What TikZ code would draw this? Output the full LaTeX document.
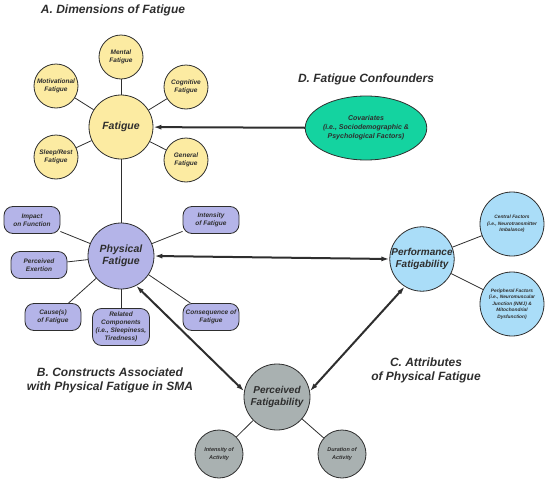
\documentclass[tikz,border=0pt]{standalone}
\usepackage{fontspec}
\setmainfont{Liberation Sans}
\usetikzlibrary{arrows.meta,shapes.geometric}

\definecolor{fatyellow}{HTML}{FCEBA2}
\definecolor{physpurple}{HTML}{B4B4E8}
\definecolor{perfblue}{HTML}{AADDF8}
\definecolor{covgreen}{HTML}{14D3A0}
\definecolor{percgray}{HTML}{A9B1B1}
\definecolor{inkgray}{HTML}{2E2E2E}

\begin{document}
\begin{tikzpicture}[x=1pt,y=-1pt,
  every node/.style={text=inkgray, align=center},
  bubble/.style={circle, draw=inkgray, line width=0.8pt, inner sep=0pt},
  pill/.style={rectangle, rounded corners=9pt, draw=inkgray, line width=0.8pt,
    fill=physpurple, minimum width=56pt, minimum height=27pt, inner sep=1pt,
    font=\fontsize{6.5}{8}\selectfont\bfseries\itshape},
  spoke/.style={draw=inkgray, line width=0.8pt},
  link/.style={draw=inkgray, line width=2pt},
  >={Latex[length=8pt,width=5pt]},
  heading/.style={font=\fontsize{12}{14}\selectfont\bfseries\itshape}]

\useasboundingbox (0,0) rectangle (550,482);

% section titles
\node[heading] (titleA) at (113,10) {A. Dimensions of Fatigue};
\node[heading] (titleD) at (366,79) {D. Fatigue Confounders};
\node[heading] (titleB) at (110,380) {B. Constructs Associated\\with Physical Fatigue in SMA};
\node[heading] (titleC) at (426,370) {C. Attributes\\of Physical Fatigue};

% A: dimensions of fatigue
\node[bubble, fill=fatyellow, minimum size=64pt,
  font=\fontsize{10.5}{11.5}\selectfont\bfseries\itshape] (fatigue) at (121,127) {Fatigue};
\tikzset{small/.style={bubble, fill=fatyellow, minimum size=44pt,
  font=\fontsize{6.5}{8}\selectfont\bfseries\itshape}}
\node[small] (mental) at (121,57) {Mental\\Fatigue};
\node[small] (motiv) at (56,86) {Motivational\\Fatigue};
\node[small] (cogn) at (186,87) {Cognitive\\Fatigue};
\node[small] (sleep) at (56,157) {Sleep/Rest\\Fatigue};
\node[small] (general) at (186,160) {General\\Fatigue};
\draw[spoke] (fatigue) -- (mental);
\draw[spoke] (fatigue) -- (motiv);
\draw[spoke] (fatigue) -- (cogn);
\draw[spoke] (fatigue) -- (sleep);
\draw[spoke] (fatigue) -- (general);

% D: confounders
\node[ellipse, draw=inkgray, line width=0.8pt, fill=covgreen, minimum width=102pt,
  minimum height=64pt, inner sep=0pt,
  font=\fontsize{7}{9}\selectfont\bfseries\itshape] (covar) at (366,128)
  {Covariates\\(i.e., Sociodemographic \&\\Psychological Factors)};
\draw[link,->] (covar) -- (fatigue);

% B: physical fatigue constructs
\node[bubble, fill=physpurple, minimum size=66pt,
  font=\fontsize{10.5}{11.5}\selectfont\bfseries\itshape] (physical) at (121,256) {Physical\\Fatigue};
\draw[spoke] (fatigue) -- (physical);
\node[pill] (impact) at (32,220) {Impact\\on Function};
\node[pill] (intens) at (211,220) {Intensity\\of Fatigue};
\node[pill] (exert) at (39,265) {Perceived\\Exertion};
\node[pill] (cause) at (53,317) {Cause(s)\\of Fatigue};
\node[pill, minimum width=57pt, minimum height=37pt] (related) at (121,327)
  {Related\\Components\\(i.e., Sleepiness,\\Tiredness)};
\node[pill] (conseq) at (211,317) {Consequence of\\Fatigue};
\draw[spoke] (physical) -- (impact);
\draw[spoke] (physical) -- (intens);
\draw[spoke] (physical) -- (exert);
\draw[spoke] (physical) -- (cause);
\draw[spoke] (physical) -- (related);
\draw[spoke] (physical) -- (conseq);

% C: attributes
\node[bubble, fill=perfblue, minimum size=64pt,
  font=\fontsize{10}{11.5}\selectfont\bfseries\itshape] (perform) at (422,259)
  {Performance\\Fatigability};
\tikzset{factor/.style={bubble, fill=perfblue, minimum size=64pt,
  font=\fontsize{4.8}{6.6}\selectfont\bfseries\itshape}}
\node[factor] (central) at (512,224) {Central Factors\\(i.e., Neurotransmitter\\Imbalance)};
\node[factor] (periph) at (512,304) {Peripheral Factors\\(i.e., Neuromuscular\\Junction (NMJ) \&\\Mitochondrial\\Dysfunction)};
\draw[spoke] (perform) -- (central);
\draw[spoke] (perform) -- (periph);

\node[bubble, fill=percgray, minimum size=66pt,
  font=\fontsize{10}{11.5}\selectfont\bfseries\itshape] (perceiv) at (277,397)
  {Perceived\\Fatigability};
\tikzset{activ/.style={bubble, fill=percgray, minimum size=48pt,
  font=\fontsize{5.5}{7.8}\selectfont\bfseries\itshape}}
\node[activ] (actint) at (219,454) {Intensity of\\Activity};
\node[activ] (actdur) at (342,454) {Duration of\\Activity};
\draw[spoke] (perceiv) -- (actint);
\draw[spoke] (perceiv) -- (actdur);

% double arrows between the attributes
\draw[link,<->] (physical.east) -- (perform.west);
\draw[link,<->] (physical.-63) -- (perceiv.170);
\draw[link,<->] (perform.238) -- (perceiv.10);

\end{tikzpicture}
\end{document}
